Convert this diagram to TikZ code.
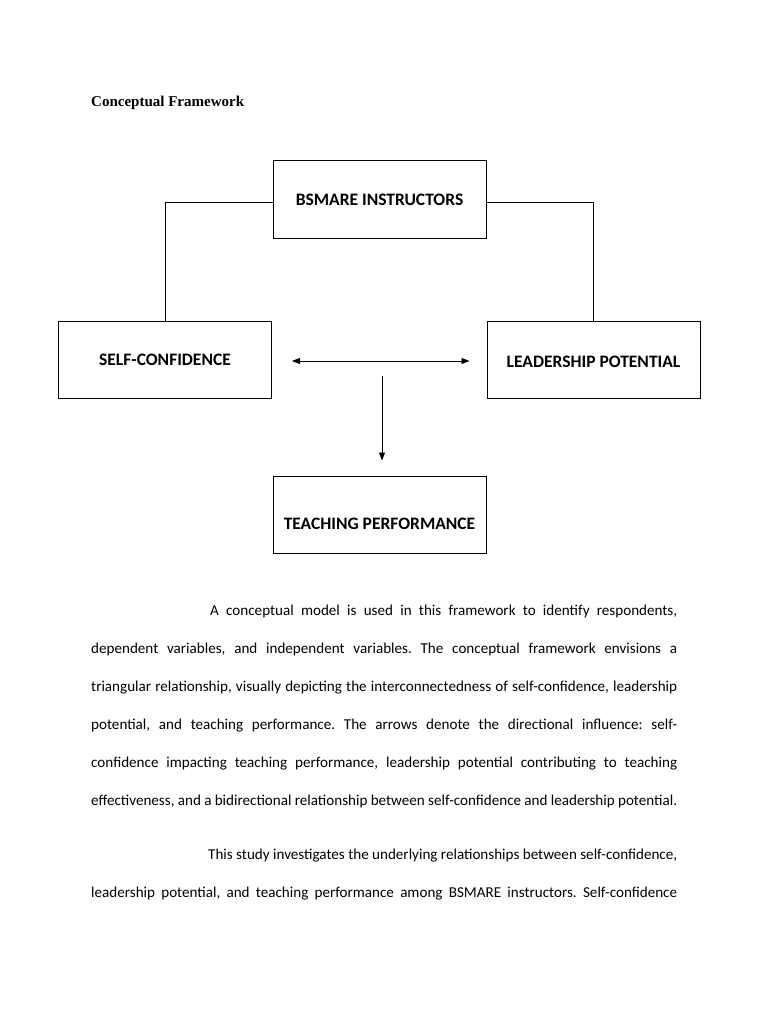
\documentclass[tikz,border=0pt]{standalone}
\usepackage{fontspec}
\usepackage{tikz}
\usetikzlibrary{
    arrows.meta,
    calc,
    positioning
}
\newfontfamily\calibrifont{Carlito}
\newfontfamily\timesfont{Liberation Serif}

\begin{document}
\begin{tikzpicture}[x=1pt, y=-1pt,
    varbox/.style={draw, line width=1pt, minimum width=213pt, minimum height=77pt, inner sep=0pt,
        font=\calibrifont\bfseries\fontsize{17.5}{20}\selectfont},
    link/.style={line width=0.8pt},
    >={Triangle[length=8pt, width=6pt]}]
    \useasboundingbox[fill=white] (0, 0) rectangle (768, 1024);
    \node[anchor=base west, inner sep=0pt, font=\timesfont\bfseries\fontsize{15}{17}\selectfont] (title) at (91, 107) {Conceptual Framework};
    \node[varbox] (instr) at (379.5, 199.5) {BSMARE INSTRUCTORS};
    \node[varbox] (selfconf) at (165, 359.5) {SELF-CONFIDENCE};
    \node[varbox, text height=16pt, text depth=0pt] (leader) at (593.5, 359.5) {LEADERSHIP POTENTIAL};
    \node[varbox, text height=30pt, text depth=0pt] (teach) at (379.5, 514.5) {TEACHING PERFORMANCE};
    \coordinate (fork) at (382, 376);
    \draw[link]
        ([yshift=-2.5pt]instr.west) -| (selfconf.north)
        ([yshift=-2.5pt]instr.east) -| (leader.north);
    \draw[link, <->] ([xshift=20pt, yshift=-1.5pt]selfconf.east) -- ([xshift=-17pt, yshift=-1.5pt]leader.west);
    \draw[link, ->] (fork) -- ($(fork |- teach.north) + (0, -15)$);
    \node[anchor=north west, text width=586pt, inner sep=0pt, align=justify,
        font=\calibrifont\fontsize{15.1}{38}\selectfont] (body) at (91, 605) {%
        \frenchspacing\noindent\hspace*{119pt}A conceptual model is used in this framework to identify respondents,\linebreak
        dependent variables, and independent variables. The conceptual framework envisions a\linebreak
        triangular relationship, visually depicting the interconnectedness of self-confidence, leadership\linebreak
        potential, and teaching performance. The arrows denote the directional influence: self-\linebreak
        confidence impacting teaching performance, leadership potential contributing to teaching\linebreak
        effectiveness, and a bidirectional relationship between self-confidence and leadership potential.\par
        \vspace{16pt}\noindent\hspace*{117pt}This study investigates the underlying relationships between self-confidence,\linebreak
        leadership potential, and teaching performance among BSMARE instructors. Self-confidence\parfillskip=0pt\par};
\end{tikzpicture}
\end{document}
